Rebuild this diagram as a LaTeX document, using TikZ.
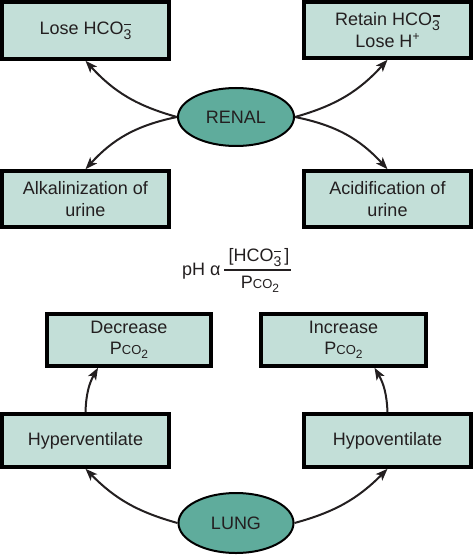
\documentclass[tikz,border=0pt]{standalone}
\usepackage{fontspec}
\setmainfont{Liberation Sans}
\usetikzlibrary{arrows.meta,shapes.geometric}
\definecolor{boxfill}{HTML}{C3DFD8}
\definecolor{ellfill}{HTML}{5FAC9C}
\definecolor{txt}{HTML}{231F20}
\newcommand{\subminus}[1]{\makebox[0pt][l]{\hspace{0.6pt}\rule[9pt]{7pt}{1.3pt}}\raisebox{-5pt}{\fontsize{14}{14}\selectfont #1}}
\newcommand{\pco}{P{\fontsize{13}{13}\selectfont CO}\raisebox{-4pt}{\fontsize{12}{12}\selectfont 2}}
\newcommand{\supplus}{\raisebox{7pt}{\fontsize{12}{12}\selectfont +}}
\begin{document}
\begin{tikzpicture}[x=1pt,y=-1pt,
  box/.style={draw=black, line width=3.6pt, fill=boxfill, text=txt, align=center,
    font=\fontsize{18}{21.5}\selectfont, inner sep=0pt},
  oval/.style={ellipse, draw=black, line width=2pt, fill=ellfill, text=txt,
    font=\fontsize{18}{21.5}\selectfont, inner sep=0pt},
  plain/.style={text=txt, font=\fontsize{18}{21.5}\selectfont, inner sep=0pt},
  arr/.style={-{Stealth[length=12pt,width=9pt,inset=3pt]}, line width=2pt, draw=txt}]
\useasboundingbox (0,0) rectangle (473,556);
% renal part
\node[box, minimum width=167pt, minimum height=57pt] (lose) at (85.5,30.5) {Lose HCO\subminus{3}};
\node[box, minimum width=167pt, minimum height=56pt] (retain) at (387.5,30) {Retain HCO\subminus{3}\\Lose H\supplus};
\node[box, minimum width=167pt, minimum height=56pt] (alk) at (85.5,199) {Alkalinization of\\urine};
\node[box, minimum width=167pt, minimum height=56pt] (acid) at (387.5,199) {Acidification of\\urine};
\node[oval, minimum width=116pt, minimum height=58pt] (renal) at (236,117) {RENAL};
\draw[arr] (renal.west) to[bend left=16] (lose.south);
\draw[arr] (renal.west) to[bend right=18] (alk.north);
\draw[arr] (renal.east) to[bend right=16] (retain.south);
\draw[arr] (renal.east) to[bend left=18] (acid.north);
% formula
\node[plain, anchor=base west] (ph) at (182,275) {pH α};
\node[plain, anchor=base] (num) at (259,261) {[HCO\subminus{3}\,]};
\node[plain, anchor=base] (den) at (260,288) {\pco};
\draw[line width=1.2pt, draw=txt] (224,270) coordinate (barL) -- (291,270) coordinate (barR);
% lung part
\node[box, minimum width=164pt, minimum height=52pt] (decrease) at (129,340) {Decrease\\\pco};
\node[box, minimum width=165pt, minimum height=52pt] (increase) at (343.5,340) {Increase\\\pco};
\node[box, minimum width=167pt, minimum height=53pt] (hyper) at (85.5,440.5) {Hyperventilate};
\node[box, minimum width=167pt, minimum height=53pt] (hypo) at (387.5,440.5) {Hypoventilate};
\node[oval, minimum width=115pt, minimum height=60pt] (lung) at (236,523) {LUNG};
\draw[arr] (hyper.north) to[bend left=14] ([xshift=-31pt]decrease.south);
\draw[arr] (hypo.north) to[bend right=14] ([xshift=31pt]increase.south);
\draw[arr] (lung.west) to[bend left=15] (hyper.south);
\draw[arr] (lung.east) to[bend right=15] (hypo.south);
\end{tikzpicture}
\end{document}
